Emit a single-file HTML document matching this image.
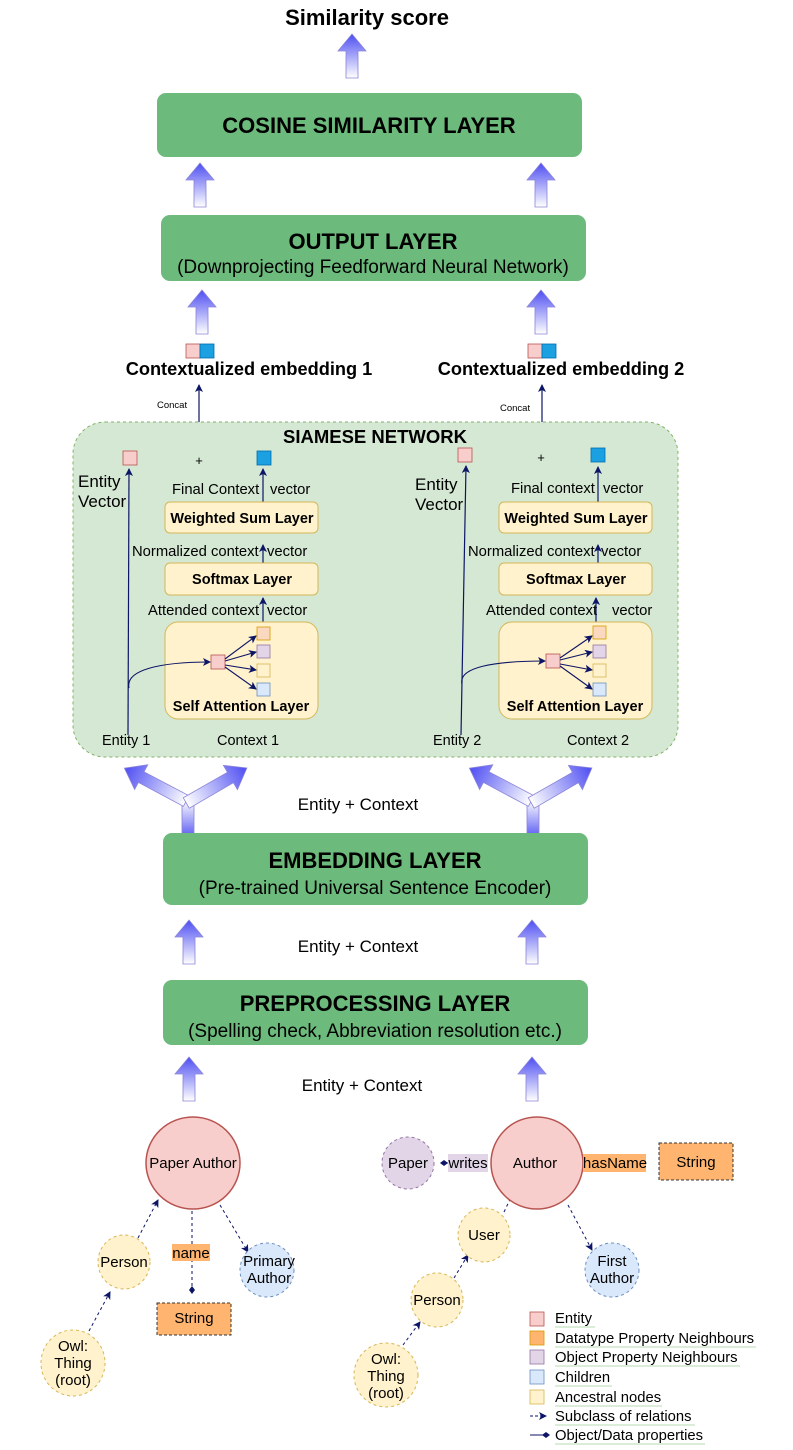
<!DOCTYPE html>
<html><head><meta charset="utf-8"><style>
html,body{margin:0;padding:0;background:#fff}
svg{display:block;font-family:"Liberation Sans",Arial,sans-serif}
</style></head><body>
<svg width="793" height="1450" viewBox="0 0 793 1450" xmlns="http://www.w3.org/2000/svg">
<defs>
<linearGradient id="ag" x1="0" y1="0" x2="0" y2="1"><stop offset="0" stop-color="#4d4df2"/><stop offset="1" stop-color="#ffffff"/></linearGradient>
<linearGradient id="agd" x1="0" y1="1" x2="0" y2="0"><stop offset="0" stop-color="#4d4df2"/><stop offset="1" stop-color="#ffffff"/></linearGradient>
<marker id="mh" markerWidth="8" markerHeight="8" refX="7" refY="4" orient="auto" markerUnits="userSpaceOnUse"><path d="M0,0 L8,4 L0,8 L2,4 Z" fill="#0d1566"/></marker>
<marker id="md" markerWidth="8" markerHeight="8" refX="4" refY="4" orient="auto" markerUnits="userSpaceOnUse"><path d="M0,4 L4,1 L8,4 L4,7 Z" fill="#0d1566"/></marker>
<g id="ua"><path d="M0,0 L14,17 L6,17 L6,44 L-6,44 L-6,17 L-14,17 Z" fill="url(#ag)" stroke="#8a84d8" stroke-width="0.8"/></g>
<g id="arm"><path d="M0,0 L14,19 L6,19 L6,70 L-6,70 L-6,19 L-14,19 Z" fill="url(#ag)" stroke="#8a84d8" stroke-width="0.8"/></g>
<g id="ya">
<path d="M-6,840 L-6,800 L6,800 L6,840 Z" fill="url(#agd)" stroke="#8a84d8" stroke-width="0.8"/>
<use href="#arm" transform="translate(0,802) rotate(-62) translate(0,-72)"/>
<use href="#arm" transform="translate(0,802) rotate(60) translate(0,-68)"/>
</g>
</defs>

<text x="367" y="25" font-size="22" font-weight="bold" text-anchor="middle">Similarity score</text>
<use href="#ua" x="352" y="34"/>

<rect x="157" y="93" width="425" height="64" rx="9" fill="#6cba7c"/>
<text x="369" y="133" font-size="22" font-weight="bold" text-anchor="middle">COSINE SIMILARITY LAYER</text>
<use href="#ua" x="200" y="163"/>
<use href="#ua" x="541" y="163"/>

<rect x="161" y="215" width="425" height="66" rx="9" fill="#6cba7c"/>
<text x="373" y="249" font-size="22" font-weight="bold" text-anchor="middle">OUTPUT LAYER</text>
<text x="373" y="273" font-size="19" text-anchor="middle">(Downprojecting Feedforward Neural Network)</text>
<use href="#ua" x="202" y="290"/>
<use href="#ua" x="541" y="290"/>

<rect x="186" y="344" width="14" height="14" fill="#f8cecc" stroke="#b85450" stroke-width="0.8"/>
<rect x="200" y="344" width="14" height="14" fill="#1ba1e2" stroke="#006eaf" stroke-width="0.8"/>
<rect x="528" y="344" width="14" height="14" fill="#f8cecc" stroke="#b85450" stroke-width="0.8"/>
<rect x="542" y="344" width="14" height="14" fill="#1ba1e2" stroke="#006eaf" stroke-width="0.8"/>
<text x="249" y="375" font-size="18.2" font-weight="bold" text-anchor="middle">Contextualized embedding 1</text>
<text x="561" y="375" font-size="18.2" font-weight="bold" text-anchor="middle">Contextualized embedding 2</text>
<text x="157" y="408" font-size="9.5">Concat</text>
<text x="500" y="411" font-size="9.5">Concat</text>
<line x1="199" y1="453" x2="199" y2="385" stroke="#0d1566" stroke-width="1.2" marker-end="url(#mh)"/>
<line x1="542" y1="453" x2="542" y2="385" stroke="#0d1566" stroke-width="1.2" marker-end="url(#mh)"/>

<rect x="73" y="422" width="605" height="335" rx="32" fill="#d5e8d4" stroke="#82b366" stroke-width="1" stroke-dasharray="3,3"/>
<text x="375" y="443" font-size="18.5" font-weight="bold" text-anchor="middle">SIAMESE NETWORK</text>

<g>
<rect x="123" y="451" width="14" height="14" fill="#f8cecc" stroke="#b85450" stroke-width="0.8"/>
<text x="199" y="465" font-size="13" text-anchor="middle">+</text>
<rect x="257" y="451" width="14" height="14" fill="#1ba1e2" stroke="#006eaf" stroke-width="0.8"/>
<text x="78" y="487" font-size="17">Entity</text>
<text x="78" y="507" font-size="17">Vector</text>
<line x1="128" y1="735" x2="129" y2="469" stroke="#0d1566" stroke-width="1.2" marker-end="url(#mh)"/>
<text x="172" y="494" font-size="14.8">Final Context</text>
<text x="270" y="494" font-size="14.8">vector</text>
<line x1="263" y1="502" x2="263" y2="469" stroke="#0d1566" stroke-width="1.2" marker-end="url(#mh)"/>
<rect x="165" y="502" width="153" height="31" rx="5" fill="#fff2cc" stroke="#d6b656" stroke-width="1"/>
<text x="242" y="523" font-size="14.5" font-weight="bold" text-anchor="middle">Weighted Sum Layer</text>
<text x="132" y="556" font-size="14.8">Normalized context</text>
<text x="267" y="556" font-size="14.8">vector</text>
<line x1="263" y1="563" x2="263" y2="545" stroke="#0d1566" stroke-width="1.2" marker-end="url(#mh)"/>
<rect x="165" y="563" width="153" height="32" rx="5" fill="#fff2cc" stroke="#d6b656" stroke-width="1"/>
<text x="242" y="584" font-size="14.5" font-weight="bold" text-anchor="middle">Softmax Layer</text>
<text x="148" y="615" font-size="14.8">Attended context</text>
<text x="267" y="615" font-size="14.8">vector</text>
<line x1="263" y1="623" x2="263" y2="598" stroke="#0d1566" stroke-width="1.2" marker-end="url(#mh)"/>
<rect x="165" y="622" width="153" height="97" rx="13" fill="#fff2cc" stroke="#d6b656" stroke-width="1"/>
<rect x="257" y="627" width="13" height="13" fill="#fad9c0" stroke="#d79b00" stroke-width="0.8"/>
<rect x="257" y="645" width="13" height="13" fill="#e1d5e7" stroke="#9673a6" stroke-width="0.8"/>
<rect x="257" y="664" width="13" height="13" fill="#fff2cc" stroke="#d6b656" stroke-width="0.8"/>
<rect x="257" y="683" width="13" height="13" fill="#dae8fc" stroke="#6c8ebf" stroke-width="0.8"/>
<rect x="211" y="655" width="14" height="14" fill="#f8cecc" stroke="#b85450" stroke-width="0.8"/>
<g stroke="#0d1566" stroke-width="1.1" fill="none">
<line x1="225" y1="659" x2="256" y2="636" marker-end="url(#mh)"/>
<line x1="225" y1="661" x2="256" y2="652" marker-end="url(#mh)"/>
<line x1="225" y1="665" x2="256" y2="670" marker-end="url(#mh)"/>
<line x1="225" y1="667" x2="256" y2="689" marker-end="url(#mh)"/>
<path d="M129,688 C125,670 160,662 210,662" marker-end="url(#mh)"/>
</g>
<text x="241" y="711" font-size="14.5" font-weight="bold" text-anchor="middle">Self Attention Layer</text>
<text x="102" y="745" font-size="14.5">Entity 1</text>
<text x="217" y="745" font-size="14.5">Context 1</text>
</g>

<g>
<rect x="458" y="448" width="14" height="14" fill="#f8cecc" stroke="#b85450" stroke-width="0.8"/>
<text x="541" y="462" font-size="13" text-anchor="middle">+</text>
<rect x="591" y="448" width="14" height="14" fill="#1ba1e2" stroke="#006eaf" stroke-width="0.8"/>
<text x="415" y="490" font-size="17">Entity</text>
<text x="415" y="510" font-size="17">Vector</text>
<line x1="461" y1="735" x2="466" y2="466" stroke="#0d1566" stroke-width="1.2" marker-end="url(#mh)"/>
<text x="511" y="493" font-size="14.8">Final context</text>
<text x="603" y="493" font-size="14.8">vector</text>
<line x1="598" y1="502" x2="598" y2="467" stroke="#0d1566" stroke-width="1.2" marker-end="url(#mh)"/>
<rect x="499" y="502" width="153" height="31" rx="5" fill="#fff2cc" stroke="#d6b656" stroke-width="1"/>
<text x="576" y="523" font-size="14.5" font-weight="bold" text-anchor="middle">Weighted Sum Layer</text>
<text x="468" y="556" font-size="14.8">Normalized context</text>
<text x="601" y="556" font-size="14.8">vector</text>
<line x1="598" y1="563" x2="598" y2="545" stroke="#0d1566" stroke-width="1.2" marker-end="url(#mh)"/>
<rect x="499" y="563" width="153" height="32" rx="5" fill="#fff2cc" stroke="#d6b656" stroke-width="1"/>
<text x="576" y="584" font-size="14.5" font-weight="bold" text-anchor="middle">Softmax Layer</text>
<text x="486" y="615" font-size="14.8">Attended context</text>
<text x="612" y="615" font-size="14.8">vector</text>
<line x1="596" y1="623" x2="596" y2="598" stroke="#0d1566" stroke-width="1.2" marker-end="url(#mh)"/>
<rect x="499" y="622" width="153" height="97" rx="13" fill="#fff2cc" stroke="#d6b656" stroke-width="1"/>
<rect x="593" y="626" width="13" height="13" fill="#fad9c0" stroke="#d79b00" stroke-width="0.8"/>
<rect x="593" y="645" width="13" height="13" fill="#e1d5e7" stroke="#9673a6" stroke-width="0.8"/>
<rect x="593" y="664" width="13" height="13" fill="#fff2cc" stroke="#d6b656" stroke-width="0.8"/>
<rect x="593" y="683" width="13" height="13" fill="#dae8fc" stroke="#6c8ebf" stroke-width="0.8"/>
<rect x="546" y="654" width="14" height="14" fill="#f8cecc" stroke="#b85450" stroke-width="0.8"/>
<g stroke="#0d1566" stroke-width="1.1" fill="none">
<line x1="560" y1="658" x2="592" y2="636" marker-end="url(#mh)"/>
<line x1="560" y1="660" x2="592" y2="652" marker-end="url(#mh)"/>
<line x1="560" y1="664" x2="592" y2="670" marker-end="url(#mh)"/>
<line x1="560" y1="666" x2="592" y2="689" marker-end="url(#mh)"/>
<path d="M462,684 C458,667 495,661 545,661" marker-end="url(#mh)"/>
</g>
<text x="575" y="711" font-size="14.5" font-weight="bold" text-anchor="middle">Self Attention Layer</text>
<text x="433" y="745" font-size="14.5">Entity 2</text>
<text x="567" y="745" font-size="14.5">Context 2</text>
</g>

<use href="#ya" x="188" y="0"/>
<use href="#ya" x="533" y="0"/>

<text x="358" y="810" font-size="17" text-anchor="middle">Entity + Context</text>

<rect x="163" y="833" width="425" height="72" rx="9" fill="#6cba7c"/>
<text x="375" y="868" font-size="22" font-weight="bold" text-anchor="middle">EMBEDDING LAYER</text>
<text x="375" y="894" font-size="19" text-anchor="middle">(Pre-trained Universal Sentence Encoder)</text>
<use href="#ua" x="189" y="920"/>
<use href="#ua" x="532" y="920"/>
<text x="358" y="952" font-size="17" text-anchor="middle">Entity + Context</text>

<rect x="163" y="980" width="425" height="65" rx="9" fill="#6cba7c"/>
<text x="375" y="1011" font-size="22" font-weight="bold" text-anchor="middle">PREPROCESSING LAYER</text>
<text x="375" y="1037" font-size="19" text-anchor="middle">(Spelling check, Abbreviation resolution etc.)</text>
<use href="#ua" x="189" y="1057"/>
<use href="#ua" x="532" y="1057"/>
<text x="362" y="1091" font-size="17" text-anchor="middle">Entity + Context</text>

<g font-size="15" text-anchor="middle">
<g stroke="#0d1566" stroke-width="1" stroke-dasharray="3,3" fill="none">
<line x1="138" y1="1238" x2="158" y2="1200" marker-end="url(#mh)"/>
<line x1="89" y1="1331" x2="110" y2="1292" marker-end="url(#mh)"/>
<line x1="220" y1="1205" x2="248" y2="1252" marker-end="url(#mh)"/>
<line x1="192" y1="1211" x2="192" y2="1290" marker-end="url(#md)"/>
<line x1="504" y1="1212" x2="514" y2="1191" marker-end="url(#mh)"/>
<line x1="454" y1="1278" x2="468" y2="1255" marker-end="url(#mh)"/>
<line x1="403" y1="1345" x2="420" y2="1322" marker-end="url(#mh)"/>
<line x1="568" y1="1205" x2="592" y2="1250" marker-end="url(#mh)"/>
</g>
<ellipse cx="193" cy="1163" rx="47" ry="46" fill="#f8cecc" stroke="#b85450" stroke-width="1.5"/>
<text x="193" y="1168">Paper Author</text>
<ellipse cx="124" cy="1262" rx="26" ry="27" fill="#fff2cc" stroke="#d6b656" stroke-dasharray="3,3"/>
<text x="124" y="1267">Person</text>
<ellipse cx="267" cy="1270" rx="27" ry="27" fill="#dae8fc" stroke="#6c8ebf" stroke-dasharray="3,3"/>
<text x="269" y="1266">Primary</text><text x="269" y="1283">Author</text>
<rect x="172" y="1244" width="38" height="17" fill="#ffb570"/>
<text x="191" y="1258">name</text>
<rect x="157" y="1303" width="74" height="32" fill="#ffb570" stroke="#333" stroke-dasharray="3,2"/>
<text x="194" y="1323">String</text>
<ellipse cx="73" cy="1363" rx="32" ry="33" fill="#fff2cc" stroke="#d6b656" stroke-dasharray="3,3"/>
<text x="73" y="1351">Owl:</text><text x="73" y="1368">Thing</text><text x="73" y="1385">(root)</text>

<line x1="487" y1="1163" x2="444" y2="1163" stroke="#0d1566" marker-end="url(#md)"/>
<ellipse cx="408" cy="1163" rx="26" ry="26" fill="#e1d5e7" stroke="#9673a6" stroke-dasharray="3,3"/>
<text x="408" y="1168">Paper</text>
<rect x="448" y="1154" width="40" height="18" fill="#e1d5e7"/>
<text x="468" y="1168">writes</text>
<ellipse cx="537" cy="1163" rx="46" ry="46" fill="#f8cecc" stroke="#b85450" stroke-width="1.5"/>
<text x="535" y="1168">Author</text>
<rect x="583" y="1154" width="63" height="18" fill="#ffb570"/>
<text x="615" y="1168">hasName</text>
<rect x="659" y="1143" width="74" height="37" fill="#ffb570" stroke="#333" stroke-dasharray="3,2"/>
<text x="696" y="1167">String</text>
<ellipse cx="484" cy="1235" rx="26" ry="27" fill="#fff2cc" stroke="#d6b656" stroke-dasharray="3,3"/>
<text x="484" y="1240">User</text>
<ellipse cx="437" cy="1300" rx="26" ry="27" fill="#fff2cc" stroke="#d6b656" stroke-dasharray="3,3"/>
<text x="437" y="1305">Person</text>
<ellipse cx="612" cy="1270" rx="27" ry="27" fill="#dae8fc" stroke="#6c8ebf" stroke-dasharray="3,3"/>
<text x="612" y="1266">First</text><text x="612" y="1283">Author</text>
<ellipse cx="386" cy="1375" rx="32" ry="32" fill="#fff2cc" stroke="#d6b656" stroke-dasharray="3,3"/>
<text x="386" y="1364">Owl:</text><text x="386" y="1381">Thing</text><text x="386" y="1398">(root)</text>
</g>

<g font-size="14.8">
<rect x="530" y="1312" width="14" height="14" fill="#f8cecc" stroke="#b85450" stroke-width="0.8"/>
<text x="555" y="1323">Entity</text>
<rect x="530" y="1331" width="14" height="14" fill="#ffb570" stroke="#d79b00" stroke-width="0.8"/>
<text x="555" y="1343">Datatype Property Neighbours</text>
<rect x="530" y="1350" width="14" height="14" fill="#e1d5e7" stroke="#9673a6" stroke-width="0.8"/>
<text x="555" y="1362">Object Property Neighbours</text>
<rect x="530" y="1370" width="14" height="14" fill="#dae8fc" stroke="#6c8ebf" stroke-width="0.8"/>
<text x="555" y="1382">Children</text>
<rect x="530" y="1390" width="14" height="14" fill="#fff2cc" stroke="#d6b656" stroke-width="0.8"/>
<text x="555" y="1402">Ancestral nodes</text>
<line x1="530" y1="1416" x2="546" y2="1416" stroke="#0d1566" stroke-dasharray="3,2" marker-end="url(#mh)"/>
<text x="555" y="1421">Subclass of relations</text>
<line x1="530" y1="1435" x2="546" y2="1435" stroke="#0d1566" marker-end="url(#md)"/>
<text x="555" y="1440">Object/Data properties</text>
<g stroke="#b7dbb3" stroke-width="1">
<line x1="555" y1="1327" x2="595" y2="1327"/><line x1="555" y1="1347" x2="756" y2="1347"/>
<line x1="555" y1="1366" x2="740" y2="1366"/><line x1="555" y1="1386" x2="612" y2="1386"/>
<line x1="555" y1="1406" x2="662" y2="1406"/><line x1="555" y1="1425" x2="695" y2="1425"/>
<line x1="555" y1="1444" x2="705" y2="1444"/>
</g>
</g>
</svg>
</body></html>
